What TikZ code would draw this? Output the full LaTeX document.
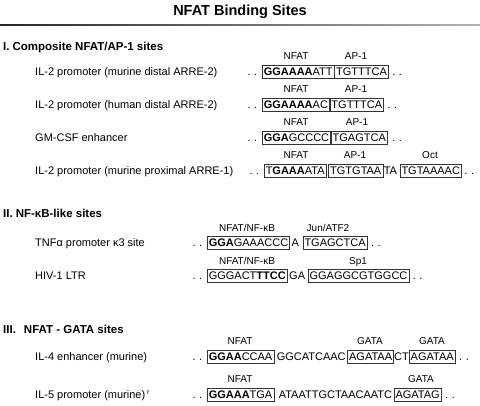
\documentclass[tikz,border=0pt]{standalone}
\usepackage{fontspec}
\setmainfont{Liberation Sans}
\tikzset{
  seqtext/.style={font=\fontsize{11}{13}\selectfont, inner xsep=1.5pt, inner ysep=0pt, text height=8pt, text depth=0pt, minimum height=12.5pt, anchor=west},
  seqbox/.style={seqtext, draw=black!80, line width=0.55pt},
  sitelab/.style={font=\fontsize{10}{11}\selectfont, inner sep=0pt, anchor=base},
  rowlab/.style={font=\fontsize{11}{13}\selectfont, inner sep=0pt, anchor=base west},
  header/.style={font=\fontsize{11.5}{13}\selectfont\bfseries, inner sep=0pt, anchor=base west},
  titletext/.style={font=\fontsize{14.5}{16}\selectfont\bfseries, inner sep=0pt, anchor=base},
}
\newcommand{\dotpair}{.\hspace{3.5pt}.}
\begin{document}
\begin{tikzpicture}[x=1pt, y=-1pt]
\fill[white] (0,0) rectangle (480,406);
\useasboundingbox (0,0) rectangle (480,406);

% title and rule
\node[titletext] (title) at (240,15.2) {NFAT Binding Sites};
\shade[left color=black!85, right color=black!30] (0,24.2) rectangle (480,25.8);

% ---------- Section I ----------
\node[header] (secI) at (3,51) {I.\hspace{3pt}Composite NFAT/AP-1 sites};

% row 1
\node[rowlab] (n1) at (35,76) {IL-2 promoter (murine distal ARRE-2)};
\node[seqbox] (r1a) at (262,72) {\textbf{GGAAAA}ATT};
\node[seqbox] (r1b) at (r1a.east) {TGTTTCA\hspace{4pt}};
\node[seqtext, anchor=east] (r1p) at ([xshift=-3pt]r1a.west) {\dotpair};
\node[seqtext] (r1s) at ([xshift=2pt]r1b.east) {\dotpair};
\node[sitelab] (l1a) at (296,59.6) {NFAT};
\node[sitelab] (l1b) at (356,59.6) {AP-1};

% row 2
\node[rowlab] (n2) at (35,109) {IL-2 promoter (human distal ARRE-2)};
\node[seqbox] (r2a) at (262,105) {\textbf{GGAAAA}AC};
\node[seqbox] (r2b) at (r2a.east) {TGTTTCA\hspace{1.5pt}};
\node[seqtext, anchor=east] (r2p) at ([xshift=-3pt]r2a.west) {\dotpair};
\node[seqtext] (r2s) at ([xshift=2pt]r2b.east) {\dotpair};
\node[sitelab] (l2a) at (296,92.6) {NFAT};
\node[sitelab] (l2b) at (356,92.6) {AP-1};

% row 3
\node[rowlab] (n3) at (35,142) {GM-CSF enhancer};
\node[seqbox] (r3a) at (262,138) {\textbf{GGA}GCCCC};
\node[seqbox] (r3b) at (r3a.east) {TGAGTCA};
\node[seqtext, anchor=east] (r3p) at ([xshift=-3pt]r3a.west) {\dotpair};
\node[seqtext] (r3s) at ([xshift=3pt]r3b.east) {\dotpair};
\node[sitelab] (l3a) at (296,125.6) {NFAT};
\node[sitelab] (l3b) at (357,125.6) {AP-1};

% row 4
\node[rowlab] (n4) at (35,175) {IL-2 promoter (murine proximal ARRE-1)};
\node[seqbox] (r4a) at (264,171) {T\textbf{GAAA}ATA\hspace{1pt}};
\node[seqbox] (r4b) at ([xshift=2pt]r4a.east) {TGTGTAA};
\node[seqtext, inner xsep=0.5pt] (r4t) at (r4b.east) {TA};
\node[seqbox] (r4c) at ([xshift=2pt]r4t.east) {TGTAAAAC};
\node[seqtext, anchor=east] (r4p) at ([xshift=-3pt]r4a.west) {\dotpair};
\node[seqtext] (r4s) at ([xshift=1pt]r4c.east) {\dotpair};
\node[sitelab] (l4a) at (296,158.6) {NFAT};
\node[sitelab] (l4b) at (355,158.6) {AP-1};
\node[sitelab] (l4c) at (430,158.6) {Oct};

% ---------- Section II ----------
\node[header] (secII) at (3,218) {II.\hspace{3pt}NF-κB-like sites};

% row 5
\node[rowlab] (n5) at (35,247) {TNFα promoter κ3 site};
\node[seqbox] (r5a) at (207,243) {\textbf{GGA}GAAACCC};
\node[seqtext] (r5t) at (r5a.east) {A};
\node[seqbox] (r5b) at ([xshift=2pt]r5t.east) {TGAGCTCA};
\node[seqtext, anchor=east] (r5p) at ([xshift=-3pt]r5a.west) {\dotpair};
\node[seqtext] (r5s) at ([xshift=2pt]r5b.east) {\dotpair};
\node[sitelab] (l5a) at (247,231.6) {NFAT/NF-κB};
\node[sitelab] (l5b) at (328,231.6) {Jun/ATF2};

% row 6
\node[rowlab] (n6) at (35,280) {HIV-1 LTR};
\node[seqbox] (r6a) at (207,276) {GGGACT\textbf{TTCC}};
\node[seqtext] (r6t) at (r6a.east) {GA};
\node[seqbox] (r6b) at ([xshift=1pt]r6t.east) {GGAGGCGTGGCC};
\node[seqtext, anchor=east] (r6p) at ([xshift=-3pt]r6a.west) {\dotpair};
\node[seqtext] (r6s) at ([xshift=2pt]r6b.east) {\dotpair};
\node[sitelab] (l6a) at (247,264.6) {NFAT/NF-κB};
\node[sitelab] (l6b) at (358,264.6) {Sp1};

% ---------- Section III ----------
\node[header] (secIII) at (3,334) {III.\hspace{8pt}NFAT - GATA sites};

% row 7
\node[rowlab] (n7) at (35,361) {IL-4 enhancer (murine)};
\node[seqbox] (r7a) at (207,357) {\textbf{GGAA}CCAA};
\node[seqtext] (r7t) at ([xshift=1pt]r7a.east) {GGCATCAAC};
\node[seqbox] (r7b) at (r7t.east) {AGATAA};
\node[seqtext, inner xsep=0pt] (r7u) at (r7b.east) {CT};
\node[seqbox] (r7c) at (r7u.east) {AGATAA};
\node[seqtext, anchor=east] (r7p) at ([xshift=-3pt]r7a.west) {\dotpair};
\node[seqtext] (r7s) at ([xshift=2pt]r7c.east) {\dotpair};
\node[sitelab] (l7a) at (240,344.6) {NFAT};
\node[sitelab] (l7b) at (370,344.6) {GATA};
\node[sitelab] (l7c) at (432,344.6) {GATA};

% row 8
\node[rowlab] (n8) at (35,399) {IL-5 promoter (murine)\,\raisebox{4pt}{\fontsize{7}{8}\selectfont r}};
\node[seqbox] (r8a) at (207,395) {\textbf{GGAAA}TGA};
\node[seqtext] (r8t) at ([xshift=3pt]r8a.east) {ATAATTGCTAACAATC};
\node[seqbox] (r8b) at (r8t.east) {AGATAG};
\node[seqtext, anchor=east] (r8p) at ([xshift=-3pt]r8a.west) {\dotpair};
\node[seqtext] (r8s) at ([xshift=2pt]r8b.east) {\dotpair};
\node[sitelab] (l8a) at (240,382.6) {NFAT};
\node[sitelab] (l8b) at (421,382.6) {GATA};
\end{tikzpicture}
\end{document}
